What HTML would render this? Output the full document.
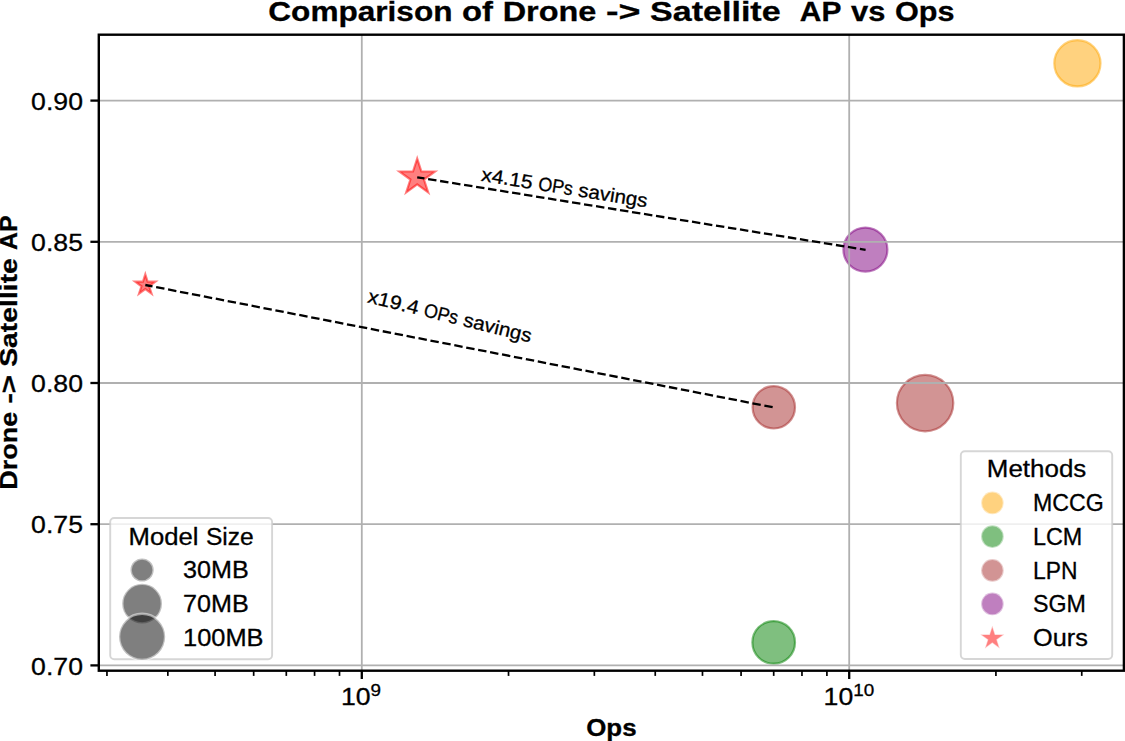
<!DOCTYPE html><html><head><meta charset="utf-8"><style>html,body{margin:0;padding:0;background:#fff;}svg{display:block;}text{font-family:"Liberation Sans",sans-serif;stroke:#000;stroke-width:0.3px;}</style></head><body>
<svg width="1125" height="741" viewBox="0 0 1125 741">
<rect width="1125" height="741" fill="#fff"/>
<circle cx="1077.4" cy="63.3" r="23.10" fill="#FFA500" fill-opacity="0.5" stroke="#FFA500" stroke-opacity="0.5" stroke-width="2.2"/>
<circle cx="865.4" cy="249.6" r="22.00" fill="#800080" fill-opacity="0.5" stroke="#800080" stroke-opacity="0.5" stroke-width="2.2"/>
<circle cx="773.8" cy="407.3" r="21.20" fill="#A52A2A" fill-opacity="0.5" stroke="#A52A2A" stroke-opacity="0.5" stroke-width="2.2"/>
<circle cx="925.1" cy="403.1" r="28.20" fill="#A52A2A" fill-opacity="0.5" stroke="#A52A2A" stroke-opacity="0.5" stroke-width="2.2"/>
<circle cx="773.7" cy="642.4" r="21.30" fill="#008000" fill-opacity="0.5" stroke="#008000" stroke-opacity="0.5" stroke-width="2.2"/>
<polygon points="417.20,158.60 413.00,171.52 399.42,171.52 410.41,179.51 406.21,192.43 417.20,184.44 428.19,192.43 423.99,179.51 434.98,171.52 421.40,171.52" fill="#FF0000" fill-opacity="0.5" stroke="#FF0000" stroke-opacity="0.5" stroke-width="2.2" stroke-linejoin="miter" stroke-miterlimit="10"/>
<polygon points="145.30,274.40 142.92,281.72 135.22,281.72 141.45,286.25 139.07,293.58 145.30,289.05 151.53,293.58 149.15,286.25 155.38,281.72 147.68,281.72" fill="#FF0000" fill-opacity="0.5" stroke="#FF0000" stroke-opacity="0.5" stroke-width="2.2" stroke-linejoin="miter" stroke-miterlimit="10"/>
<line x1="98.8" y1="665.40" x2="1123.9" y2="665.40" stroke="#b0b0b0" stroke-width="1.8"/>
<line x1="98.8" y1="524.20" x2="1123.9" y2="524.20" stroke="#b0b0b0" stroke-width="1.8"/>
<line x1="98.8" y1="383.00" x2="1123.9" y2="383.00" stroke="#b0b0b0" stroke-width="1.8"/>
<line x1="98.8" y1="241.80" x2="1123.9" y2="241.80" stroke="#b0b0b0" stroke-width="1.8"/>
<line x1="98.8" y1="100.60" x2="1123.9" y2="100.60" stroke="#b0b0b0" stroke-width="1.8"/>
<line x1="361.80" y1="34.7" x2="361.80" y2="670.7" stroke="#b0b0b0" stroke-width="1.8"/>
<line x1="849.20" y1="34.7" x2="849.20" y2="670.7" stroke="#b0b0b0" stroke-width="1.8"/>
<line x1="417.2" y1="177.3" x2="865.6" y2="249.8" stroke="#000" stroke-width="2.3" stroke-dasharray="8.45 3.7" stroke-dashoffset="1.1"/>
<line x1="145.3" y1="285.0" x2="773.7" y2="407.4" stroke="#000" stroke-width="2.3" stroke-dasharray="8.45 3.7" stroke-dashoffset="1.1"/>
<g transform="translate(480.5,180.8) rotate(9.1)"><text x="0.00" y="0.00" font-size="19.39" textLength="51.80" lengthAdjust="spacingAndGlyphs">x4.15</text><text x="57.64" y="0.00" font-size="19.39" textLength="34.80" lengthAdjust="spacingAndGlyphs">OPs</text><text x="98.29" y="0.00" font-size="19.39" textLength="69.71" lengthAdjust="spacingAndGlyphs">savings</text></g>
<g transform="translate(366.8,302.2) rotate(13.9)"><text x="0.00" y="0.00" font-size="19.39" textLength="51.80" lengthAdjust="spacingAndGlyphs">x19.4</text><text x="57.64" y="0.00" font-size="19.39" textLength="34.80" lengthAdjust="spacingAndGlyphs">OPs</text><text x="98.29" y="0.00" font-size="19.39" textLength="69.71" lengthAdjust="spacingAndGlyphs">savings</text></g>
<rect x="110.2" y="518.0" width="161.90" height="141.30" rx="4" ry="4" fill="#fff" fill-opacity="0.8" stroke="#cccccc" stroke-opacity="0.8" stroke-width="1.9"/>
<text x="128.60" y="545.00" font-size="24.58" textLength="69.96" lengthAdjust="spacingAndGlyphs">Model</text><text x="205.97" y="545.00" font-size="24.58" textLength="47.83" lengthAdjust="spacingAndGlyphs">Size</text>
<circle cx="142.1" cy="570.0" r="11.60" fill="#000" fill-opacity="0.5" stroke="#fff" stroke-opacity="0.5" stroke-width="2.6"/>
<circle cx="142.1" cy="603.7" r="19.90" fill="#000" fill-opacity="0.5" stroke="#fff" stroke-opacity="0.5" stroke-width="2.6"/>
<circle cx="142.1" cy="636.8" r="23.10" fill="#000" fill-opacity="0.5" stroke="#fff" stroke-opacity="0.5" stroke-width="2.6"/>
<text x="183.00" y="578.00" font-size="24.58" textLength="65.74" lengthAdjust="spacingAndGlyphs">30MB</text>
<text x="183.00" y="611.90" font-size="24.58" textLength="65.74" lengthAdjust="spacingAndGlyphs">70MB</text>
<text x="183.00" y="645.80" font-size="24.58" textLength="80.56" lengthAdjust="spacingAndGlyphs">100MB</text>
<rect x="960.8" y="451.3" width="151.40" height="207.70" rx="4" ry="4" fill="#fff" fill-opacity="0.8" stroke="#cccccc" stroke-opacity="0.8" stroke-width="1.9"/>
<text x="986.84" y="477.40" font-size="24.58" textLength="99.53" lengthAdjust="spacingAndGlyphs">Methods</text>
<circle cx="992.4" cy="502.9" r="11.3" fill="#FFA500" fill-opacity="0.5" stroke="#fff" stroke-opacity="0.5" stroke-width="2"/>
<text x="1033.00" y="511.10" font-size="24.58" textLength="70.70" lengthAdjust="spacingAndGlyphs">MCCG</text>
<circle cx="992.4" cy="536.6" r="11.3" fill="#008000" fill-opacity="0.5" stroke="#fff" stroke-opacity="0.5" stroke-width="2"/>
<text x="1033.00" y="544.80" font-size="24.58" textLength="49.35" lengthAdjust="spacingAndGlyphs">LCM</text>
<circle cx="992.4" cy="570.4" r="11.3" fill="#A52A2A" fill-opacity="0.5" stroke="#fff" stroke-opacity="0.5" stroke-width="2"/>
<text x="1033.00" y="578.60" font-size="24.58" textLength="44.46" lengthAdjust="spacingAndGlyphs">LPN</text>
<circle cx="992.4" cy="603.9" r="11.3" fill="#800080" fill-opacity="0.5" stroke="#fff" stroke-opacity="0.5" stroke-width="2"/>
<text x="1033.00" y="612.10" font-size="24.58" textLength="52.95" lengthAdjust="spacingAndGlyphs">SGM</text>
<polygon points="992.30,625.70 989.47,634.41 980.32,634.41 987.72,639.79 984.89,648.49 992.30,643.11 999.71,648.49 996.88,639.79 1004.28,634.41 995.13,634.41" fill="#FF0000" fill-opacity="0.5" stroke="#fff" stroke-opacity="0.5" stroke-width="1.2"/>
<text x="1033.00" y="645.60" font-size="24.58" textLength="54.83" lengthAdjust="spacingAndGlyphs">Ours</text>
<rect x="98.8" y="34.7" width="1025.10" height="636.00" fill="none" stroke="#000" stroke-width="2.4"/>
<line x1="90.39999999999999" y1="665.40" x2="98.8" y2="665.40" stroke="#000" stroke-width="2.3"/>
<text x="31.12" y="674.50" font-size="24.58" textLength="51.88" lengthAdjust="spacingAndGlyphs">0.70</text>
<line x1="90.39999999999999" y1="524.20" x2="98.8" y2="524.20" stroke="#000" stroke-width="2.3"/>
<text x="31.12" y="533.30" font-size="24.58" textLength="51.88" lengthAdjust="spacingAndGlyphs">0.75</text>
<line x1="90.39999999999999" y1="383.00" x2="98.8" y2="383.00" stroke="#000" stroke-width="2.3"/>
<text x="31.12" y="392.10" font-size="24.58" textLength="51.88" lengthAdjust="spacingAndGlyphs">0.80</text>
<line x1="90.39999999999999" y1="241.80" x2="98.8" y2="241.80" stroke="#000" stroke-width="2.3"/>
<text x="31.12" y="250.90" font-size="24.58" textLength="51.88" lengthAdjust="spacingAndGlyphs">0.85</text>
<line x1="90.39999999999999" y1="100.60" x2="98.8" y2="100.60" stroke="#000" stroke-width="2.3"/>
<text x="31.12" y="109.70" font-size="24.58" textLength="51.88" lengthAdjust="spacingAndGlyphs">0.90</text>
<line x1="361.80" y1="670.7" x2="361.80" y2="679.0" stroke="#000" stroke-width="2.3"/>
<line x1="849.20" y1="670.7" x2="849.20" y2="679.0" stroke="#000" stroke-width="2.3"/>
<line x1="106.95" y1="670.7" x2="106.95" y2="675.9000000000001" stroke="#000" stroke-width="1.7"/>
<line x1="167.84" y1="670.7" x2="167.84" y2="675.9000000000001" stroke="#000" stroke-width="1.7"/>
<line x1="215.08" y1="670.7" x2="215.08" y2="675.9000000000001" stroke="#000" stroke-width="1.7"/>
<line x1="253.67" y1="670.7" x2="253.67" y2="675.9000000000001" stroke="#000" stroke-width="1.7"/>
<line x1="286.30" y1="670.7" x2="286.30" y2="675.9000000000001" stroke="#000" stroke-width="1.7"/>
<line x1="314.57" y1="670.7" x2="314.57" y2="675.9000000000001" stroke="#000" stroke-width="1.7"/>
<line x1="339.50" y1="670.7" x2="339.50" y2="675.9000000000001" stroke="#000" stroke-width="1.7"/>
<line x1="508.52" y1="670.7" x2="508.52" y2="675.9000000000001" stroke="#000" stroke-width="1.7"/>
<line x1="594.35" y1="670.7" x2="594.35" y2="675.9000000000001" stroke="#000" stroke-width="1.7"/>
<line x1="655.24" y1="670.7" x2="655.24" y2="675.9000000000001" stroke="#000" stroke-width="1.7"/>
<line x1="702.48" y1="670.7" x2="702.48" y2="675.9000000000001" stroke="#000" stroke-width="1.7"/>
<line x1="741.07" y1="670.7" x2="741.07" y2="675.9000000000001" stroke="#000" stroke-width="1.7"/>
<line x1="773.70" y1="670.7" x2="773.70" y2="675.9000000000001" stroke="#000" stroke-width="1.7"/>
<line x1="801.97" y1="670.7" x2="801.97" y2="675.9000000000001" stroke="#000" stroke-width="1.7"/>
<line x1="826.90" y1="670.7" x2="826.90" y2="675.9000000000001" stroke="#000" stroke-width="1.7"/>
<line x1="995.92" y1="670.7" x2="995.92" y2="675.9000000000001" stroke="#000" stroke-width="1.7"/>
<line x1="1081.75" y1="670.7" x2="1081.75" y2="675.9000000000001" stroke="#000" stroke-width="1.7"/>
<text x="340.90" y="704.60" font-size="24.58" textLength="29.65" lengthAdjust="spacingAndGlyphs">10</text>
<text x="370.60" y="695.90" font-size="17.41" textLength="10.50" lengthAdjust="spacingAndGlyphs">9</text>
<text x="823.60" y="704.60" font-size="24.58" textLength="29.65" lengthAdjust="spacingAndGlyphs">10</text>
<text x="853.30" y="695.90" font-size="17.41" textLength="21.00" lengthAdjust="spacingAndGlyphs">10</text>
<text x="268.30" y="21.00" font-size="28.22" font-weight="bold" textLength="184.23" lengthAdjust="spacingAndGlyphs">Comparison</text><text x="462.12" y="21.00" font-size="28.22" font-weight="bold" textLength="30.93" lengthAdjust="spacingAndGlyphs">of</text><text x="502.65" y="21.00" font-size="28.22" font-weight="bold" textLength="93.73" lengthAdjust="spacingAndGlyphs">Drone</text><text x="605.97" y="21.00" font-size="28.22" font-weight="bold" textLength="34.54" lengthAdjust="spacingAndGlyphs">-&gt;</text><text x="650.10" y="21.00" font-size="28.22" font-weight="bold" textLength="130.54" lengthAdjust="spacingAndGlyphs">Satellite</text><text x="799.83" y="21.00" font-size="28.22" font-weight="bold" textLength="41.53" lengthAdjust="spacingAndGlyphs">AP</text><text x="850.96" y="21.00" font-size="28.22" font-weight="bold" textLength="34.37" lengthAdjust="spacingAndGlyphs">vs</text><text x="894.93" y="21.00" font-size="28.22" font-weight="bold" textLength="59.57" lengthAdjust="spacingAndGlyphs">Ops</text>
<text x="586.22" y="736.40" font-size="24.58" font-weight="bold" textLength="50.35" lengthAdjust="spacingAndGlyphs">Ops</text>
<g transform="translate(17.4,352.6) rotate(-90)"><text x="-137.10" y="0.00" font-size="24.58" font-weight="bold" textLength="78.09" lengthAdjust="spacingAndGlyphs">Drone</text><text x="-51.02" y="0.00" font-size="24.58" font-weight="bold" textLength="28.77" lengthAdjust="spacingAndGlyphs">-&gt;</text><text x="-14.25" y="0.00" font-size="24.58" font-weight="bold" textLength="108.75" lengthAdjust="spacingAndGlyphs">Satellite</text><text x="102.50" y="0.00" font-size="24.58" font-weight="bold" textLength="34.60" lengthAdjust="spacingAndGlyphs">AP</text></g>
</svg></body></html>
